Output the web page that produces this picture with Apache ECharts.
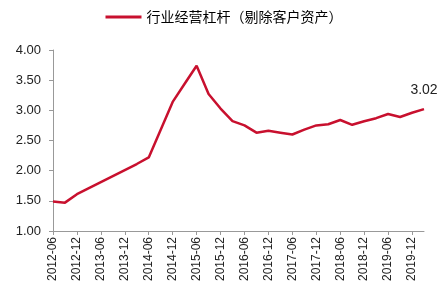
<!DOCTYPE html>
<html>
<head>
<meta charset="utf-8">
<script src="https://cdn.jsdelivr.net/npm/echarts@6/dist/echarts.min.js"></script>
<style>
    html, body {margin: 0; padding: 0; background: #fff;}
    #chart {width: 448px; height: 302px;}
</style>
</head>
<body>
<div id="chart"></div>
<script>
// 季度数据 2012-06 ~ 2020-03
const quarters = [
    '2012-06', '2012-09', '2012-12', '2013-03', '2013-06', '2013-09', '2013-12', '2014-03',
    '2014-06', '2014-09', '2014-12', '2015-03', '2015-06', '2015-09', '2015-12', '2016-03',
    '2016-06', '2016-09', '2016-12', '2017-03', '2017-06', '2017-09', '2017-12', '2018-03',
    '2018-06', '2018-09', '2018-12', '2019-03', '2019-06', '2019-09', '2019-12', '2020-03'
];
const leverage = [
    1.49, 1.47, 1.61, 1.71, 1.81, 1.91, 2.01, 2.11,
    2.22, 2.68, 3.14, 3.44, 3.74, 3.27, 3.03, 2.82,
    2.75, 2.63, 2.66, 2.63, 2.60, 2.68, 2.75, 2.77,
    2.84, 2.76, 2.82, 2.87, 2.94, 2.89, 2.96, 3.02
];
const seriesName = '行业经营杠杆（剔除客户资产）';
const lineColor = '#C8102E';

const chart = echarts.init(document.getElementById('chart'));
const lastIndex = leverage.length - 1;

chart.setOption({
    animation: false,
    textStyle: {fontFamily: 'Liberation Sans, Noto Sans CJK SC, sans-serif'},
    legend: {
        top: 5,
        left: 'center',
        itemWidth: 36,
        itemHeight: 10,
        itemGap: 4,
        icon: 'path://M0,4 L36,4 L36,7 L0,7 Z',
        textStyle: {fontSize: 14, color: '#000', fontFamily: 'Noto Sans CJK SC'},
        data: [seriesName]
    },
    grid: {left: 53, right: 24, top: 50, bottom: 71},
    xAxis: {
        type: 'category',
        data: quarters,
        boundaryGap: false,
        axisLine: {lineStyle: {color: '#999'}},
        axisTick: {interval: 1, length: 4, lineStyle: {color: '#999'}},
        axisLabel: {interval: 1, rotate: 90, fontSize: 12, color: '#222', margin: 6}
    },
    yAxis: {
        type: 'value',
        min: 1,
        max: 4,
        interval: 0.5,
        splitLine: {show: false},
        axisLine: {show: true, lineStyle: {color: '#999'}},
        axisTick: {show: true, length: 4, lineStyle: {color: '#999'}},
        axisLabel: {fontSize: 13, color: '#222', margin: 12, formatter: v => v.toFixed(2)}
    },
    series: [{
        name: seriesName,
        type: 'line',
        data: leverage,
        symbol: 'none',
        lineStyle: {color: lineColor, width: 2.5},
        itemStyle: {color: lineColor},
        label: {show: false},
        markPoint: {
            symbol: 'circle',
            symbolSize: 0,
            label: {
                show: true,
                position: 'top',
                distance: 12,
                fontSize: 14,
                color: '#222',
                formatter: p => p.value.toFixed(2)
            },
            data: [{coord: [lastIndex, leverage[lastIndex]], value: leverage[lastIndex]}]
        }
    }]
});
</script>
</body>
</html>
